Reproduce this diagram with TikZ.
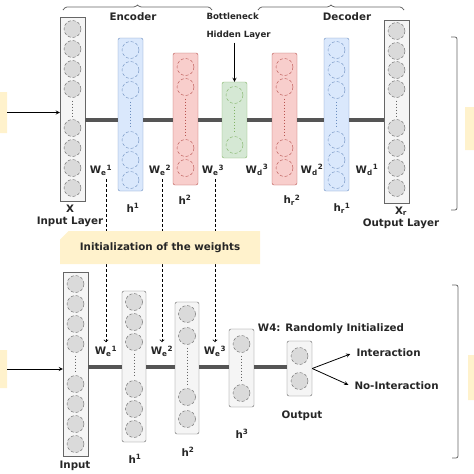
\documentclass[tikz,border=0pt]{standalone}
\usepackage{fontspec}
\setmainfont{DejaVu Sans}
\usetikzlibrary{positioning, shapes.misc, decorations.pathreplacing}
\definecolor{grayfill}{HTML}{F5F5F5}
\definecolor{graydraw}{HTML}{666666}
\definecolor{cellfill}{HTML}{DADADA}
\definecolor{bluefill}{HTML}{DAE8FC}
\definecolor{bluedraw}{HTML}{6C8EBF}
\definecolor{redfill}{HTML}{F8CECC}
\definecolor{reddraw}{HTML}{B85450}
\definecolor{greenfill}{HTML}{D5E8D4}
\definecolor{greendraw}{HTML}{82B366}
\definecolor{notefill}{HTML}{FFF2CC}
\definecolor{linkgray}{HTML}{555555}
\tikzstyle{layer} = [rectangle, minimum width=25pt, inner sep=0pt, draw=graydraw, fill=grayfill]
\tikzstyle{roundlayer} = [layer, rounded corners=2pt]
\tikzstyle{bluelayer} = [roundlayer, draw=bluedraw, fill=bluefill]
\tikzstyle{redlayer} = [roundlayer, draw=reddraw, fill=redfill]
\tikzstyle{greenlayer} = [roundlayer, draw=greendraw, fill=greenfill]
\tikzstyle{neuron} = [circle, minimum size=17pt, inner sep=0pt, densely dashed, draw=graydraw, fill=cellfill]
\tikzstyle{blueneuron} = [neuron, draw=bluedraw, fill=bluefill]
\tikzstyle{redneuron} = [neuron, draw=reddraw, fill=redfill]
\tikzstyle{greenneuron} = [neuron, draw=greendraw, fill=greenfill]
\tikzstyle{dots} = [dotted, line width=1pt, shorten <=3pt, shorten >=3pt]
\tikzstyle{lab} = [font=\fontsize{10.3}{12.5}\selectfont\bfseries, text=black!85, align=center]
\tikzstyle{link} = [line width=3.5pt, draw=linkgray]
\tikzstyle{arrow} = [thick,->,>=stealth]
\tikzstyle{dasharrow} = [thick, densely dashed, ->, >=to]
\tikzstyle{note} = [chamfered rectangle, chamfered rectangle corners=north west, chamfered rectangle xsep=5pt, fill=notefill, inner sep=0pt]
\tikzstyle{bracket} = [graydraw, thick, rounded corners=2pt]

\begin{document}
\begin{tikzpicture}[x=1pt, y=-1pt]
    \useasboundingbox (0,0) rectangle (474,474);
    \clip (0,0) rectangle (474,474);

    % autoencoder: layers
    \node (x) [layer, minimum height=184pt] at (72.5,109) {};
    \foreach \y [count=\i] in {29,49,69,89,128,148,168,188}
        \node (x-\i) [neuron] at (72.5,\y) {};
    \draw [dots, graydraw] (x-4) -- (x-5);

    \node (h1) [bluelayer, minimum height=153pt] at (130.5,114.5) {};
    \foreach \y [count=\i] in {50,70,90,140,160,180}
        \node (h1-\i) [blueneuron] at (130.5,\y) {};
    \draw [dots, bluedraw] (h1-3) -- (h1-4);

    \node (h2) [redlayer, minimum height=132pt] at (185.5,119) {};
    \foreach \y [count=\i] in {67,87,148,168}
        \node (h2-\i) [redneuron] at (185.5,\y) {};
    \draw [dots, reddraw] (h2-2) -- (h2-3);

    \node (bn) [greenlayer, minimum height=76pt] at (234.5,120) {};
    \foreach \y [count=\i] in {95,145}
        \node (bn-\i) [greenneuron] at (234.5,\y) {};
    \draw [dots, greendraw] (bn-1) -- (bn-2);

    \node (hr2) [redlayer, minimum height=132pt] at (284.5,119) {};
    \foreach \y [count=\i] in {67,87,148,168}
        \node (hr2-\i) [redneuron] at (284.5,\y) {};
    \draw [dots, reddraw] (hr2-2) -- (hr2-3);

    \node (hr1) [bluelayer, minimum height=153pt] at (336.5,114.5) {};
    \foreach \y [count=\i] in {50,70,90,140,160,180}
        \node (hr1-\i) [blueneuron] at (336.5,\y) {};
    \draw [dots, bluedraw] (hr1-3) -- (hr1-4);

    \node (xr) [layer, minimum height=183pt] at (396.5,111.5) {};
    \foreach \y [count=\i] in {31,51,70,89,128,148,168,188}
        \node (xr-\i) [neuron] at (396.5,\y) {};
    \draw [dots, graydraw] (xr-4) -- (xr-5);

    \draw [link] (x.east |- 0,120) -- (h1.west |- 0,120);
    \draw [link] (h1.east |- 0,120) -- (h2.west |- 0,120);
    \draw [link] (h2.east |- 0,120) -- (bn.west |- 0,120);
    \draw [link] (bn.east |- 0,120) -- (hr2.west |- 0,120);
    \draw [link] (hr2.east |- 0,120) -- (hr1.west |- 0,120);
    \draw [link] (hr1.east |- 0,120) -- (xr.west |- 0,120);

    % autoencoder: labels
    \draw [decorate, decoration={brace, amplitude=6pt}, bracket] (63,10) -- (212,10);
    \draw [decorate, decoration={brace, amplitude=6pt}, bracket] (258,10) -- (404,10);
    \node (enc) [lab] at (133,17) {Encoder};
    \node (dec) [lab] at (347,17) {Decoder};
    \node (bnlab) [lab, align=left, anchor=west, font=\fontsize{8.6}{18}\selectfont\bfseries] at (203,26) {Bottleneck\\Hidden Layer};
    \draw [arrow] (bn.north |- bnlab.south) -- (bn.north);

    \node (xlab) [lab] at (70,216) {X\\Input Layer};
    \node (xrlab) [lab] at (401,218) {X\textsubscript{r}\\Output Layer};
    \node (h1lab) [lab] at (133,208) {h\textsuperscript{1}};
    \node (h2lab) [lab] at (185,200) {h\textsuperscript{2}};
    \node (hr2lab) [lab] at (292,200) {h\textsubscript{r}\textsuperscript{2}};
    \node (hr1lab) [lab] at (342,208) {h\textsubscript{r}\textsuperscript{1}};
    \node (we1) [lab] at (101,170) {W\textsubscript{e}\textsuperscript{1}};
    \node (we2) [lab] at (160,170) {W\textsubscript{e}\textsuperscript{2}};
    \node (we3) [lab] at (213,170) {W\textsubscript{e}\textsuperscript{3}};
    \node (wd3) [lab] at (257,170) {W\textsubscript{d}\textsuperscript{3}};
    \node (wd2) [lab] at (312,170) {W\textsubscript{d}\textsuperscript{2}};
    \node (wd1) [lab] at (367,170) {W\textsubscript{d}\textsuperscript{1}};

    % classifier: layers
    \node (in) [layer, minimum height=184pt] at (75.5,364) {};
    \foreach \y [count=\i] in {284,304,324,344,384,404,424,444}
        \node (in-\i) [neuron] at (75.5,\y) {};
    \draw [dots, graydraw] (in-4) -- (in-5);

    \node (c1) [roundlayer, minimum width=24pt, minimum height=151pt] at (134,366.5) {};
    \foreach \y [count=\i] in {302,322,342,389,409,429}
        \node (c1-\i) [neuron] at (134,\y) {};
    \draw [dots, graydraw] (c1-3) -- (c1-4);

    \node (c2) [roundlayer, minimum width=24pt, minimum height=132pt] at (187,368) {};
    \foreach \y [count=\i] in {314,336,397,419}
        \node (c2-\i) [neuron] at (187,\y) {};
    \draw [dots, graydraw] (c2-2) -- (c2-3);

    \node (c3) [roundlayer, minimum height=78pt] at (241.5,368) {};
    \foreach \y [count=\i] in {344,393}
        \node (c3-\i) [neuron] at (241.5,\y) {};
    \draw [dots, graydraw] (c3-1) -- (c3-2);

    \node (out) [roundlayer, minimum height=55pt] at (299.5,368.5) {};
    \foreach \y [count=\i] in {356,381}
        \node (out-\i) [neuron] at (299.5,\y) {};

    \draw [link] (in.east |- 0,367) -- (c1.west |- 0,367);
    \draw [link] (c1.east |- 0,367) -- (c2.west |- 0,367);
    \draw [link] (c2.east |- 0,367) -- (c3.west |- 0,367);
    \draw [link] (c3.east |- 0,367) -- (out.west |- 0,367);

    % classifier: labels
    \node (inlab) [lab] at (75,466) {Input};
    \node (c1lab) [lab] at (135,459) {h\textsuperscript{1}};
    \node (c2lab) [lab] at (188,452) {h\textsuperscript{2}};
    \node (c3lab) [lab] at (242,434) {h\textsuperscript{3}};
    \node (outlab) [lab] at (302,416) {Output};
    \node (w4lab) [lab] at (331,329) {W4: Randomly Initialized};
    \node (bwe1) [lab] at (106,351) {W\textsubscript{e}\textsuperscript{1}};
    \node (bwe2) [lab] at (162,351) {W\textsubscript{e}\textsuperscript{2}};
    \node (bwe3) [lab] at (215,351) {W\textsubscript{e}\textsuperscript{3}};
    \node (yes) [lab, anchor=west] at (353,353) {Interaction};
    \node (no) [lab, anchor=west] at (351,386) {No-Interaction};
    \draw [arrow, shorten >=3pt] (out.east) -- (yes.west);
    \draw [arrow, shorten >=3pt] (out.east) -- (no.west);

    % weights handed over
    \draw [dasharrow] (bwe1.north |- we1.south) -- (bwe1.north);
    \draw [dasharrow] (bwe2.north |- we2.south) -- (bwe2.north);
    \draw [dasharrow] (bwe3.north |- we3.south) -- (bwe3.north);
    \node (init) [note, minimum width=200pt, minimum height=33pt, lab] at (160,247.5) {Initialization of the weights};

    % side notes and brackets
    \node (topin) [note, minimum width=34pt, minimum height=41pt] at (-10,112.5) {};
    \node (botin) [note, minimum width=34pt, minimum height=38pt] at (-10,369) {};
    \draw [arrow] (topin.east) -- (topin.east -| x.west);
    \draw [arrow] (botin.east) -- (botin.east -| in.west);
    \node (topout) [note, minimum width=30pt, minimum height=43pt] at (480,128.5) {};
    \node (botout) [note, minimum width=30pt, minimum height=45pt] at (483,377.5) {};
    \draw [bracket] (451,37) -- (457,37) -- (457,210) -- (451,210);
    \draw [bracket] (452,285) -- (458,285) -- (458,458) -- (452,458);
\end{tikzpicture}
\end{document}
